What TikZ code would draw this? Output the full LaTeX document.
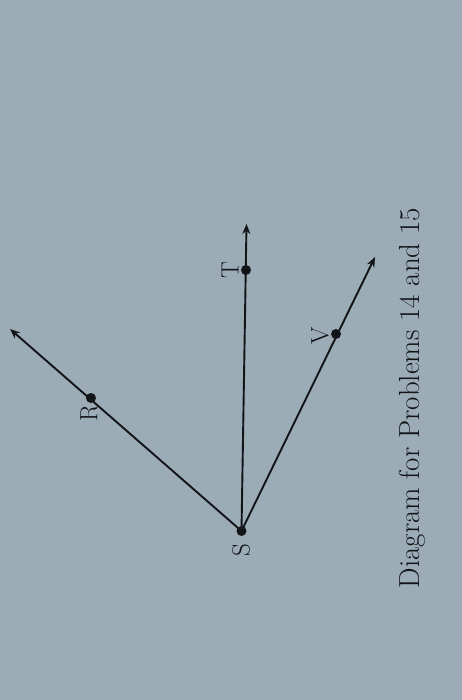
\documentclass[tikz,border=0pt]{standalone}
\usetikzlibrary{arrows.meta}
\definecolor{bg}{RGB}{155,172,182}
\definecolor{ink}{RGB}{18,20,24}
\begin{document}
\begin{tikzpicture}[x=1pt,y=-1pt,
  ray/.style={draw=ink,line width=1.9pt,-{Stealth[length=10pt,width=8pt]}},
  pt/.style={circle,fill=ink,inner sep=0pt,minimum size=10pt},
  lbl/.style={text=ink,font=\fontsize{25}{28}\selectfont,rotate=90,inner sep=0pt}]
\fill[bg] (0,0) rectangle (462,700);
\useasboundingbox (0,0) rectangle (462,700);
\node[pt] (S) at (241.5,531) {};
\node[pt] (R) at (91,398) {};
\node[pt] (T) at (246,270) {};
\node[pt] (V) at (336,334) {};
\coordinate (Re) at (10,329);
\coordinate (Te) at (246.5,224);
\coordinate (Ve) at (375,257);
\draw[ray] (S.center) -- (Re);
\draw[ray] (S.center) -- (Te);
\draw[ray] (S.center) -- (Ve);
\node[lbl] (Rl) at (89,413) {R};
\node[lbl] (Tl) at (230,270) {T};
\node[lbl] (Vl) at (320,336) {V};
\node[lbl] (Sl) at (241,550) {S};
\node[lbl,font=\fontsize{29}{32}\selectfont] (cap) at (412,398) {Diagram for Problems 14 and 15};
\end{tikzpicture}
\end{document}
